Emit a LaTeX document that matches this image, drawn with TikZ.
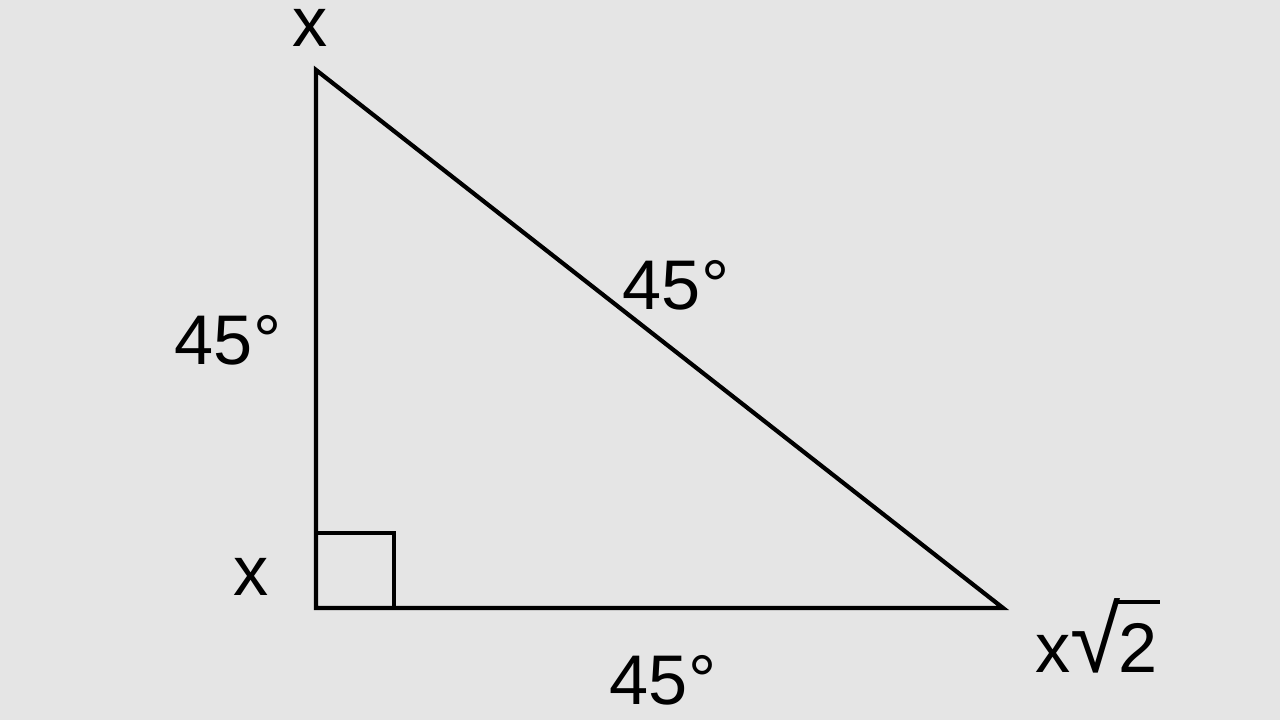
\documentclass[tikz,border=0pt]{standalone}
\usepackage{fontspec}
\setmainfont{Liberation Sans}
\usepackage{graphicx}
\usepackage{tikz}
\usetikzlibrary{positioning}
\tikzset{lbl/.style = {inner sep = 0, font=\fontsize{20}{24}\selectfont}}
\tikzset{edge/.style = {line width=1.2pt, line join=miter}}
\definecolor{mgrey}{RGB}{229,229,229}
\newcommand{\rootsign}{\scalebox{1.3}[1.33]{√}\kern-0.04em\rlap{\rule[0.98em]{0.6em}{0.065em}}}

\begin{document}
\begin{tikzpicture}
    \fill [mgrey] (0, 0) rectangle (12.8, 7.2);
    \useasboundingbox (0, 0) rectangle (12.8, 7.2);

    \coordinate (top) at (3.16, 6.50);
    \coordinate (corner) at (3.16, 1.12);
    \coordinate (right) at (10.03, 1.12);

    \draw [edge] (top) -- (corner) -- (right) -- cycle;
    \draw [edge] (corner) rectangle +(0.78, 0.75);

    \node [lbl] (xtop) at (3.10, 6.92) {x};
    \node [lbl] (leftang) at (2.28, 3.80) {45°};
    \node [lbl] (hypang) at (6.76, 4.35) {45°};
    \node [lbl] (xleft) at (2.51, 1.43) {x};
    \node [lbl] (botang) at (6.63, 0.40) {45°};
    \node [lbl, anchor=base west] (xroot) at (10.35, 0.47) {x\rootsign 2};
  \end{tikzpicture}
\end{document}
